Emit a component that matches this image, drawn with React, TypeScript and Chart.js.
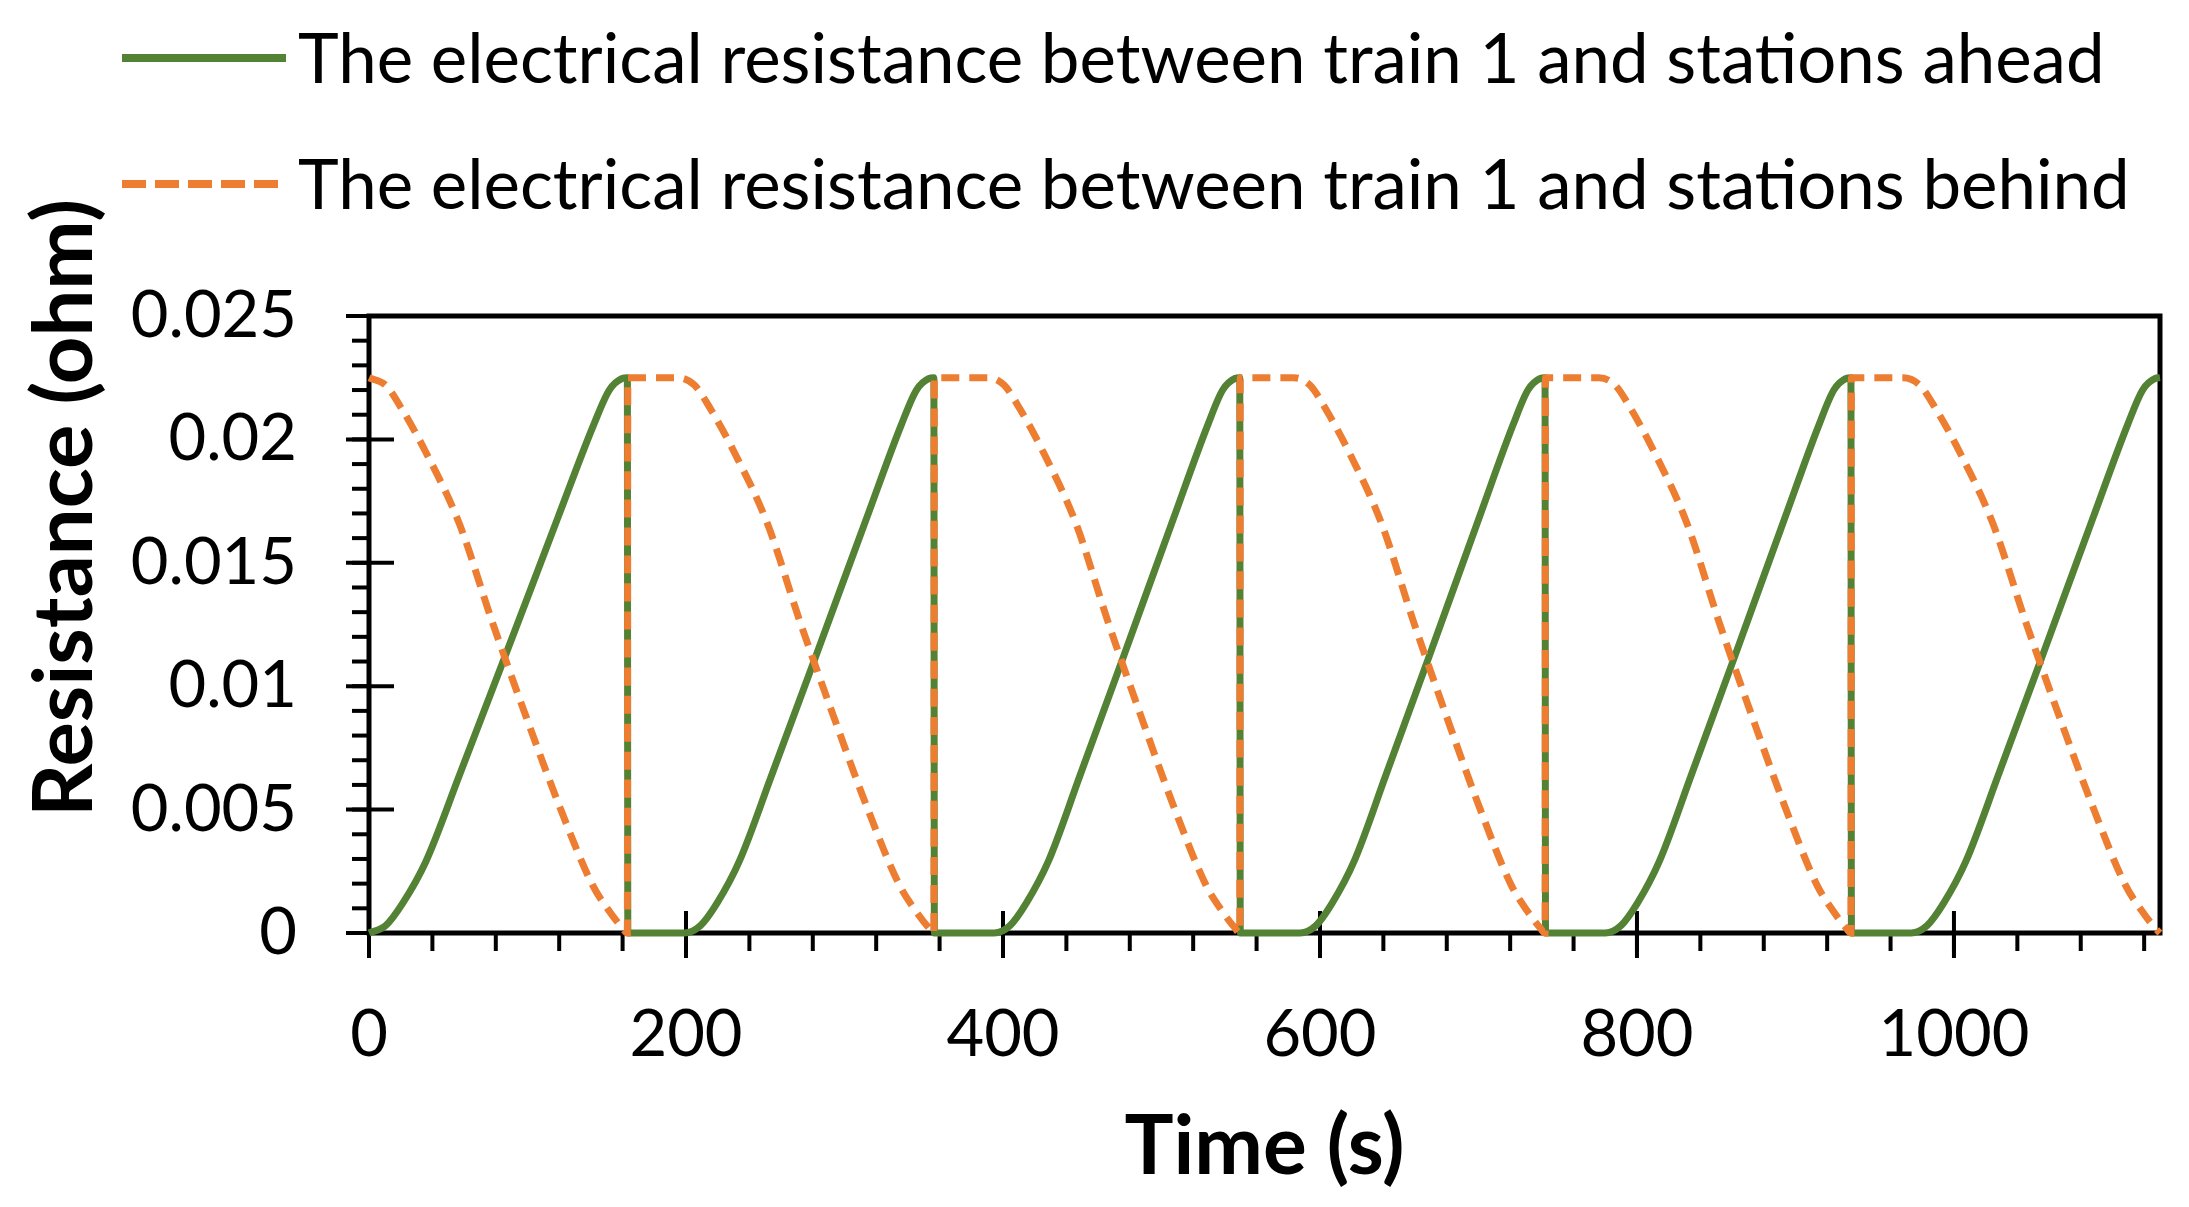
import React, { useEffect, useRef } from "react";
import { Chart, registerables } from "chart.js";

Chart.register(...registerables);

const W = 2189;
const H = 1207;

const SERIES_LABELS = [
  "The electrical resistance between train 1 and stations ahead",
  "The electrical resistance between train 1 and stations behind",
];
const X_TITLE = "Time (s)";
const Y_TITLE = "Resistance (ohm)";

// Resistance between train 1 and stations ahead (green, solid)
const AHEAD_T = [
  0, 10.5, 21.2, 35.9, 57.1, 86.4, 119.0, 141.8, 151.6, 159.7, 163,
  163.3, 199, 209.1, 219.5, 233.6, 254.1, 282.4, 313.9, 335.9, 345.4, 353.3, 356.4,
  356.7, 394.5, 404.4, 414.6, 428.6, 448.7, 476.6, 507.6, 529.3, 538.6, 546.3, 549.4,
  549.7, 587.5, 597.4, 607.6, 621.5, 641.6, 669.4, 700.3, 721.9, 731.2, 738.9, 742,
  742.3, 780, 789.9, 800.2, 814.1, 834.3, 862.2, 893.2, 914.9, 924.2, 931.9, 935,
  935.3, 973, 983, 993.4, 1007.5, 1028, 1056.2, 1087.6, 1109.6, 1119, 1126.9, 1130,
];
const AHEAD_R = [
  0, 0.0003, 0.0012, 0.0029, 0.0064, 0.0113, 0.0168, 0.0206, 0.022, 0.02247, 0.0225,
  0, 0, 0.0003, 0.0012, 0.0029, 0.0064, 0.0113, 0.0168, 0.0206, 0.022, 0.02247, 0.0225,
  0, 0, 0.0003, 0.0012, 0.0029, 0.0064, 0.0113, 0.0168, 0.0206, 0.022, 0.02247, 0.0225,
  0, 0, 0.0003, 0.0012, 0.0029, 0.0064, 0.0113, 0.0168, 0.0206, 0.022, 0.02247, 0.0225,
  0, 0, 0.0003, 0.0012, 0.0029, 0.0064, 0.0113, 0.0168, 0.0206, 0.022, 0.02247, 0.0225,
  0, 0, 0.0003, 0.0012, 0.0029, 0.0064, 0.0113, 0.0168, 0.0206, 0.022, 0.02247, 0.0225,
];

// Resistance between train 1 and stations behind (orange, dashed)
const BEHIND_T = [
  0, 10.4, 21.0, 35.7, 56.9, 77.8, 98.9, 119.8, 141.0, 151.4, 159.9, 163,
  163.3, 195, 205.3, 215.8, 230.3, 251.3, 272.0, 293.0, 313.6, 334.6, 344.9, 353.3, 356.4,
  356.7, 390.5, 400.7, 411.0, 425.3, 446.0, 466.3, 487.0, 507.3, 528.0, 538.1, 546.4, 549.4,
  549.7, 583.5, 593.6, 603.9, 618.2, 638.8, 659.1, 679.7, 700.0, 720.6, 730.7, 739.0, 742,
  742.3, 776, 786.2, 796.5, 810.8, 831.5, 851.8, 872.5, 892.9, 913.5, 923.7, 932.0, 935,
  935.3, 968, 978.4, 988.9, 1003.5, 1024.5, 1045.3, 1066.3, 1087.1, 1108.1, 1118.5, 1126.9, 1130,
];
const BEHIND_R = [
  0.0225, 0.0222, 0.0212, 0.0195, 0.0166, 0.0126, 0.0088, 0.0052, 0.00195, 0.0009, 0.0002, 0,
  0.0225, 0.0225, 0.0222, 0.0212, 0.0195, 0.0166, 0.0126, 0.0088, 0.0052, 0.00195, 0.0009, 0.0002, 0,
  0.0225, 0.0225, 0.0222, 0.0212, 0.0195, 0.0166, 0.0126, 0.0088, 0.0052, 0.00195, 0.0009, 0.0002, 0,
  0.0225, 0.0225, 0.0222, 0.0212, 0.0195, 0.0166, 0.0126, 0.0088, 0.0052, 0.00195, 0.0009, 0.0002, 0,
  0.0225, 0.0225, 0.0222, 0.0212, 0.0195, 0.0166, 0.0126, 0.0088, 0.0052, 0.00195, 0.0009, 0.0002, 0,
  0.0225, 0.0225, 0.0222, 0.0212, 0.0195, 0.0166, 0.0126, 0.0088, 0.0052, 0.00195, 0.0009, 0.0002, 0,
];

const X_MIN = 0;
const X_MAX = 1130;
const X_TICKS = [0, 200, 400, 600, 800, 1000];
const X_MINOR_STEP = 40;
const Y_MIN = 0;
const Y_MAX = 0.025;
const Y_TICKS = [0, 0.005, 0.01, 0.015, 0.02, 0.025];
const Y_TICK_LABELS = ["0", "0.005", "0.01", "0.015", "0.02", "0.025"];
const Y_MINOR_STEP = 0.001;

const GREEN = "#548235";
const ORANGE = "#ED7D31";
const FONT = "Lato, 'Open Sans', 'DejaVu Sans', sans-serif";

const decoPlugin = {
  id: "deco",
  beforeDatasetsDraw(chart: any) {
    const { ctx, chartArea: a, scales } = chart;
    const x = scales.x;
    const y = scales.y;
    const seg = (x1: number, y1: number, x2: number, y2: number) => {
      ctx.beginPath();
      ctx.moveTo(x1, y1);
      ctx.lineTo(x2, y2);
      ctx.stroke();
    };
    ctx.save();
    ctx.strokeStyle = "#000";
    ctx.lineCap = "butt";
    ctx.lineWidth = 4;
    const nY = Math.round((Y_MAX - Y_MIN) / Y_MINOR_STEP);
    for (let i = 0; i <= nY; i++) {
      const py = y.getPixelForValue(Y_MIN + i * Y_MINOR_STEP);
      seg(a.left - 17, py, a.left, py);
    }
    for (const v of Y_TICKS) {
      const py = y.getPixelForValue(v);
      seg(a.left - 23, py, a.left + 25, py);
    }
    const nX = Math.floor((X_MAX - X_MIN) / X_MINOR_STEP);
    for (let i = 0; i <= nX; i++) {
      const px = x.getPixelForValue(X_MIN + i * X_MINOR_STEP);
      seg(px, a.bottom, px, a.bottom + 18);
    }
    for (const v of X_TICKS) {
      const px = x.getPixelForValue(v);
      seg(px, a.bottom - 22, px, a.bottom + 25);
    }
    ctx.lineWidth = 5;
    ctx.strokeRect(a.left, a.top, a.right - a.left, a.bottom - a.top);
    ctx.restore();
  },
  afterDraw(chart: any) {
    const { ctx } = chart;
    ctx.save();
    // y axis title
    ctx.translate(65, 508);
    ctx.rotate(-Math.PI / 2);
    ctx.fillStyle = "#000";
    ctx.font = `bold 83px ${FONT}`;
    ctx.textAlign = "center";
    ctx.textBaseline = "middle";
    ctx.fillText(Y_TITLE, 0, 0);
    ctx.restore();

    // legend
    const rows = [
      { lineY: 58, baseY: 83 },
      { lineY: 184, baseY: 209 },
    ];
    chart.data.datasets.forEach((ds: any, i: number) => {
      const r = rows[i];
      ctx.save();
      ctx.strokeStyle = ds.borderColor;
      ctx.lineWidth = 8;
      ctx.lineCap = "butt";
      ctx.setLineDash(ds.borderDash && ds.borderDash.length ? [24, 9] : []);
      ctx.beginPath();
      ctx.moveTo(122, r.lineY);
      ctx.lineTo(286, r.lineY);
      ctx.stroke();
      ctx.setLineDash([]);
      ctx.fillStyle = "#000";
      ctx.font = `69px ${FONT}`;
      ctx.textAlign = "left";
      ctx.textBaseline = "alphabetic";
      ctx.fillText(ds.label, 298, r.baseY);
      ctx.restore();
    });
  },
};

export default function App() {
  const ref = useRef<HTMLCanvasElement>(null);

  useEffect(() => {
    document.body.style.margin = "0";
    const canvas = ref.current;
    if (!canvas) return;
    let alive = true;
    const chart = new Chart(canvas, {
      type: "line",
      data: {
        datasets: [
          {
            label: SERIES_LABELS[0],
            data: AHEAD_T.map((t, i) => ({ x: t, y: AHEAD_R[i] })),
            borderColor: GREEN,
            backgroundColor: GREEN,
            borderWidth: 7,
            pointRadius: 0,
            cubicInterpolationMode: "monotone",
            fill: false,
            clip: false as any,
            order: 1,
          },
          {
            label: SERIES_LABELS[1],
            data: BEHIND_T.map((t, i) => ({ x: t, y: BEHIND_R[i] })),
            borderColor: ORANGE,
            backgroundColor: ORANGE,
            borderWidth: 7,
            borderDash: [18, 10],
            pointRadius: 0,
            cubicInterpolationMode: "monotone",
            fill: false,
            clip: false as any,
            order: 0,
          },
        ],
      },
      options: {
        animation: false,
        responsive: false,
        maintainAspectRatio: false,
        devicePixelRatio: 1,
        layout: { padding: { top: 316, right: 29, left: 0, bottom: 0 } },
        plugins: {
          legend: { display: false },
          tooltip: { enabled: false },
        },
        scales: {
          x: {
            type: "linear",
            min: X_MIN,
            max: X_MAX,
            afterBuildTicks: (s: any) => {
              s.ticks = X_TICKS.map((v) => ({ value: v }));
            },
            afterFit: (s: any) => {
              s.height = 274;
            },
            grid: { display: false, drawTicks: false },
            border: { display: false },
            ticks: {
              padding: 63,
              autoSkip: false,
              maxRotation: 0,
              color: "#000",
              font: { family: FONT, size: 65 },
              callback: (v: any) => String(v),
            },
            title: {
              display: true,
              text: X_TITLE,
              color: "#000",
              font: { family: FONT, size: 82, weight: "bold", lineHeight: 1 },
              padding: { top: 0, bottom: 18 },
            },
          },
          y: {
            type: "linear",
            min: Y_MIN,
            max: Y_MAX,
            afterBuildTicks: (s: any) => {
              s.ticks = Y_TICKS.map((v) => ({ value: v }));
            },
            afterFit: (s: any) => {
              s.width = 369;
            },
            grid: { display: false, drawTicks: false },
            border: { display: false },
            ticks: {
              padding: 72,
              autoSkip: false,
              color: "#000",
              font: { family: FONT, size: 65 },
              callback: (v: any) => {
                const k = Y_TICKS.findIndex((t) => Math.abs(t - v) < 1e-9);
                return k >= 0 ? Y_TICK_LABELS[k] : String(v);
              },
            },
          },
        },
      },
      plugins: [decoPlugin],
    });
    const fonts = (document as any).fonts;
    if (fonts && fonts.load) {
      Promise.all([
        fonts.load("65px Lato"),
        fonts.load("bold 82px Lato"),
      ]).then(() => {
        if (alive) chart.update();
      });
    }
    return () => {
      alive = false;
      chart.destroy();
    };
  }, []);

  return (
    <div style={{ width: W, height: H, position: "relative" }}>
      <canvas
        ref={ref}
        width={W}
        height={H}
        style={{ width: W, height: H, display: "block" }}
      />
    </div>
  );
}
